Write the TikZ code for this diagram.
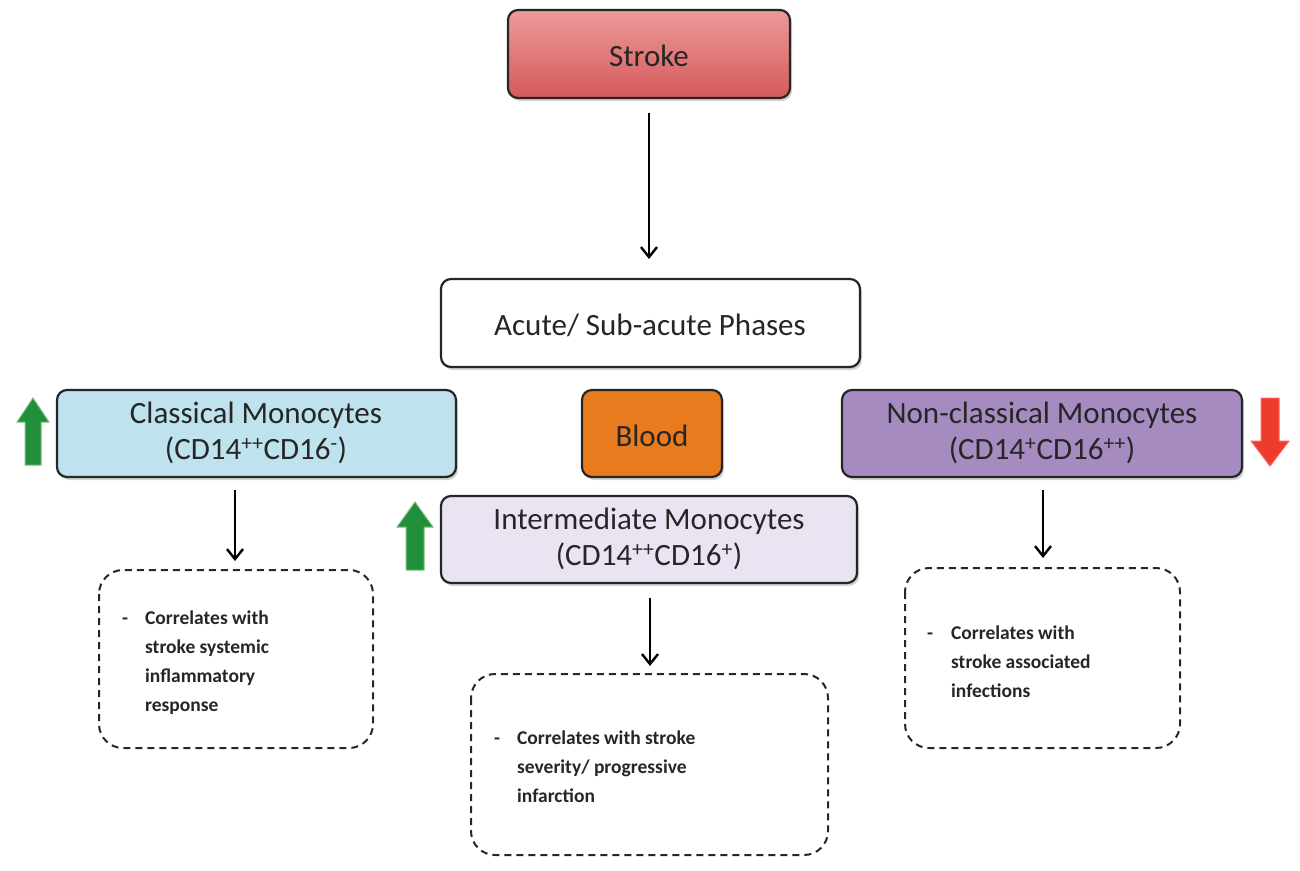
\documentclass[tikz,border=0pt]{standalone}
\usepackage{fontspec}
\setmainfont{Carlito}
\usetikzlibrary{shadows,arrows.meta}
\definecolor{sredt}{HTML}{EE9A9A}
\definecolor{sredb}{HTML}{D45A5A}
\definecolor{cblue}{HTML}{BEE3EE}
\definecolor{borange}{HTML}{E87B1E}
\definecolor{npurple}{HTML}{A68BC0}
\definecolor{ilav}{HTML}{EAE3F1}
\definecolor{agreen}{HTML}{1F8F3A}
\definecolor{ared}{HTML}{EE3B2A}
\begin{document}
\begin{tikzpicture}[x=1pt,y=-1pt,
  box/.style={draw=black!85,line width=2.2pt,rounded corners=10pt,drop shadow={opacity=0.35,shadow xshift=2pt,shadow yshift=-3pt}},
  lbl/.style={font=\fontsize{31}{36}\selectfont,align=center,text=black!85},
  note/.style={draw=black!85,line width=2pt,dash pattern=on 7pt off 5pt,rounded corners=24pt},
  ntext/.style={font=\bfseries\fontsize{19.5}{29}\selectfont,anchor=north west,text=black!85,inner sep=0pt},
  arr/.style={-{Straight Barb[length=10pt,width=16pt,line width=2.4pt]},line width=2.6pt},
  garr/.style={fill=agreen,draw=green!50!black!50,line width=1pt}
]
\useasboundingbox (0,0) rectangle (1300,870);
\path[box,top color=sredt,bottom color=sredb] (508,10) rectangle (790,98);
\node[lbl] (stroke) at (649,56) {Stroke};
\coordinate (sb) at (649,113);
\coordinate (at) at (649,259);
\path[box,fill=white] (441,279) rectangle (860,367);
\node[lbl] (acute) at (650,325) {Acute/ Sub-acute Phases};
\path[box,fill=cblue] (57,390) rectangle (456,477);
\node[lbl] (classical) at (256,433) {Classical Monocytes\\(CD14\textsuperscript{++}CD16\textsuperscript{-})};
\path[box,fill=borange] (582,390) rectangle (722,477);
\node[lbl] (blood) at (652,436) {Blood};
\path[box,fill=npurple] (842,390) rectangle (1242,477);
\node[lbl] (nonclassical) at (1042,433) {Non-classical Monocytes\\(CD14\textsuperscript{+}CD16\textsuperscript{++})};
\path[box,fill=ilav] (441,496) rectangle (857,583);
\node[lbl] (inter) at (649,539) {Intermediate Monocytes\\(CD14\textsuperscript{++}CD16\textsuperscript{+})};
% block arrows
\path[garr] (25,465) -- (25,422) -- (17,422) -- (33,398) -- (49,422) -- (41,422) -- (41,465) -- cycle;
\path[garr] (406,570) -- (406,527) -- (397,527) -- (415,502) -- (433,527) -- (424,527) -- (424,570) -- cycle;
\path[fill=ared,draw=red!60,line width=1pt] (1261,398) -- (1261,441) -- (1251,441) -- (1270,466) -- (1289,441) -- (1279,441) -- (1279,398) -- cycle;
\draw[arr] (sb) -- (at);
\coordinate (c1) at (235,490); \coordinate (c2) at (235,561);
\coordinate (n1) at (1043,490); \coordinate (n2) at (1043,558);
\coordinate (i1) at (650,598); \coordinate (i2) at (650,666);
\draw[arr] (c1) -- (c2);
\draw[arr] (n1) -- (n2);
\draw[arr] (i1) -- (i2);
\draw[note] (99,570) rectangle (373,748);
\draw[note] (471,674) rectangle (828,855);
\draw[note] (905,568) rectangle (1180,748);
\node[ntext] (t1) at (122,604) {\begin{tabular}{@{}l@{\hspace{17pt}}l@{}}-&Correlates with\\&stroke systemic\\&inflammatory\\&response\end{tabular}};
\node[ntext] (t2) at (494,724) {\begin{tabular}{@{}l@{\hspace{17pt}}l@{}}-&Correlates with stroke\\&severity/ progressive\\&infarction\end{tabular}};
\node[ntext] (t3) at (927,619) {\begin{tabular}{@{}l@{\hspace{18pt}}l@{}}-&Correlates with\\&stroke associated\\&infections\end{tabular}};
\end{tikzpicture}
\end{document}
